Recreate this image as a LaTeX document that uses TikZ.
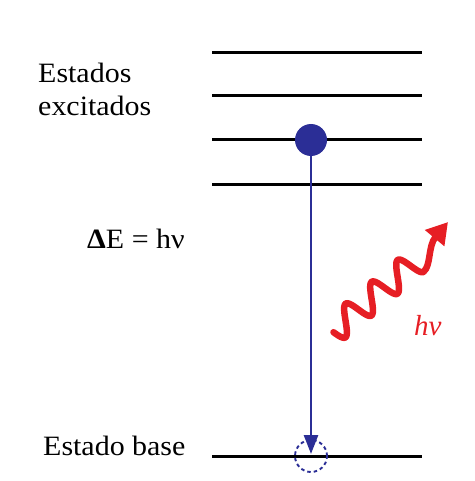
\documentclass[tikz,border=0pt]{standalone}
\usepackage{fontspec}
\setmainfont{Liberation Serif}[FakeStretch=1.07]
\newfontfamily\hvfont{Liberation Serif}
\usetikzlibrary{arrows.meta}
\definecolor{eblue}{RGB}{43,46,150}
\definecolor{ered}{RGB}{230,30,36}
\tikzset{
  level/.style={line width=3pt, black},
  lbl/.style={anchor=base west, inner sep=0pt, font=\fontsize{28}{32}\selectfont},
}
\begin{document}
\begin{tikzpicture}[x=1pt,y=-1pt]
\useasboundingbox (0,0) rectangle (474,481);
% levels
\coordinate (l1a) at (212,53);  \coordinate (l1b) at (422,53);
\coordinate (l2a) at (212,96);  \coordinate (l2b) at (422,96);
\coordinate (l3a) at (212,140); \coordinate (l3b) at (422,140);
\coordinate (l4a) at (212,184); \coordinate (l4b) at (422,184);
\coordinate (g0a) at (212,456); \coordinate (g0b) at (422,456);
\draw[level] (l1a) -- (l1b);
\draw[level] (l2a) -- (l2b);
\draw[level] (l3a) -- (l3b);
\draw[level] (l4a) -- (l4b);
\draw[level] (g0a) -- (g0b);
% electron
\node[circle, fill=eblue, minimum size=32pt, inner sep=0pt] (el) at (311,140) {};
\node[circle, draw=eblue, dash pattern=on 3.5pt off 3pt, line width=1.9pt, minimum size=32pt, inner sep=0pt] (hole) at (311,456) {};
\coordinate (tipb) at (311,454);
\draw[eblue, line width=2.7pt, -{Triangle[length=19pt,width=14pt]}] (el.south) -- (tipb);
% photon
\coordinate (ptip) at (448,222);
\draw[ered, line width=6.5pt, line cap=round, -{Triangle[length=21pt,width=24pt]}]
  plot[domain=-8:102, samples=120, smooth]
  ({339 + \x*0.766 + 13*0.5*sin(\x/34*360+90)}, {326 - \x*0.643 + 13*0.866*sin(\x/34*360+90)})
  .. controls (431,266) and (428,246) .. (ptip);
\node[anchor=base west, inner sep=0pt, text=ered, font=\hvfont\fontsize{29}{33}\selectfont\itshape] (hv) at (414,335) {hν};
% labels
\node[lbl] (exc1) at (38,83) {Estados};
\node[lbl] (exc2) at (38,116) {excitados};
\node[lbl] (de) at (87,248) {\textbf{Δ}E = hν};
\node[lbl] (base) at (43,455) {Estado base};
\end{tikzpicture}
\end{document}
